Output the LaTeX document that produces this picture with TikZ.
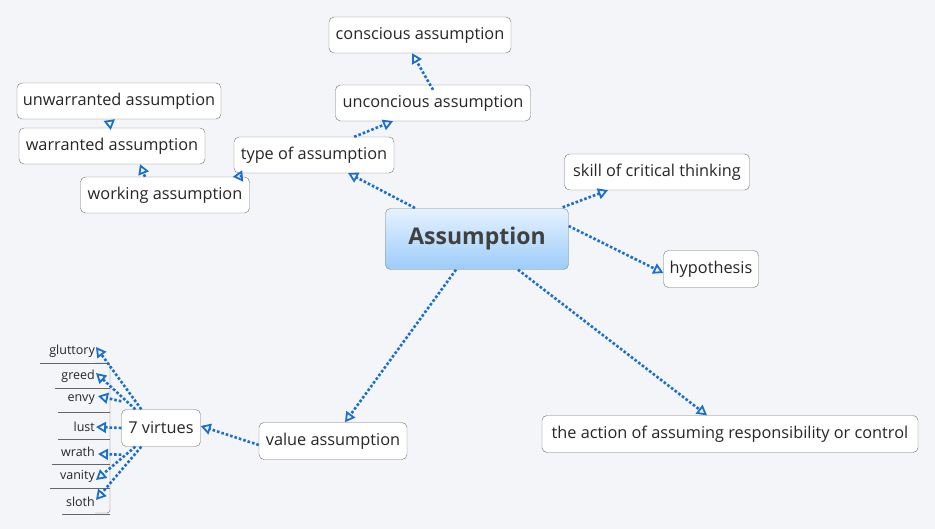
\documentclass[tikz,border=0pt]{standalone}
\usepackage{fontspec}
\setmainfont{Open Sans}
\usetikzlibrary{arrows.meta}
\definecolor{bg}{HTML}{F3F5F8}
\definecolor{ln}{HTML}{1A6FCC}
\definecolor{gtop}{HTML}{E6F2FE}
\definecolor{gbot}{HTML}{9CCCFA}
\begin{document}
\begin{tikzpicture}[x=1pt,y=-1pt,
 box/.style={draw=black!55,fill=white,rounded corners=5pt,font=\fontsize{16.3}{18}\selectfont,text=black!85,inner sep=0pt},
 con/.style={draw=ln,line width=2.6pt,dotted,-{Triangle[open,length=10pt,width=11pt,line width=1.8pt,sep=0pt]}},
 item/.style={font=\fontsize{12.5}{13}\selectfont,anchor=east,inner sep=1pt,text=black!85}]
\fill[bg] (0,0) rectangle (935,529);
\useasboundingbox (0,0) rectangle (935,529);
\node[box,minimum width=183pt,minimum height=61pt,draw=black!50,top color=gtop,bottom color=gbot,font=\bfseries\fontsize{23}{26}\selectfont,text=black!75] (A) at (477,239) {Assumption};
\node[box,minimum width=182pt,minimum height=36pt] (cons) at (420,35) {conscious assumption};
\node[box,minimum width=195pt,minimum height=36pt] (unc) at (433,103) {unconcious assumption};
\node[box,minimum width=204pt,minimum height=36pt] (unw) at (119,101) {unwarranted assumption};
\node[box,minimum width=186pt,minimum height=36pt] (war) at (112,146) {warranted assumption};
\node[box,minimum width=160pt,minimum height=36pt] (type) at (314,155) {type of assumption};
\node[box,minimum width=169pt,minimum height=36pt] (work) at (165,195) {working assumption};
\node[box,minimum width=185pt,minimum height=36pt] (skill) at (657,172) {skill of critical thinking};
\node[box,minimum width=95pt,minimum height=37pt] (hyp) at (711,269) {hypothesis};
\node[box,minimum width=148pt,minimum height=37pt] (val) at (333,441) {value assumption};
\node[box,minimum width=376pt,minimum height=37pt] (act) at (730,434) {the action of assuming responsibility or control};
% list
\draw[black!60,rounded corners=3pt] (95,363) -- (110,363) -- (110,513) -- (95,513);
\foreach \n/\t/\y/\l in {glu/gluttory/351/40,gre/greed/376/55,env/envy/400/58,lus/lust/427/58,wra/wrath/452/52,van/vanity/476/50,slo/sloth/502/62}{
 \node[item] (\n) at (96,\y) {\t};
 \draw[black!60] (\l,\y+12) -- (110,\y+12);
}
\node[box,minimum width=79pt,minimum height=37pt] (vir) at (161,428) {7 virtues};
\coordinate (a1) at (415,208); \coordinate (t1) at (348,173);
\draw[con] (a1) -- (t1);
\draw[con] (type.north east) ++(-40,0) coordinate (t2) (t2) -- ([xshift=-40pt]unc.south);
\draw[con] ([yshift=-5pt]unc.north) -- ([xshift=-8pt]cons.south);
\draw[con] ([xshift=6pt,yshift=-3pt]type.south west) -- ([xshift=-17pt]work.north east);
\draw[con] ([xshift=-20pt]work.north) -- ([xshift=28pt]war.south);
\draw[con] ([xshift=-4pt,yshift=3pt]war.north) -- ([xshift=-4pt]unw.south);
\draw[con] ([xshift=-6pt,yshift=1pt]A.north east) -- ([xshift=-49pt]skill.south);
\draw[con] ([yshift=13pt]A.east) -- ([yshift=-4pt]hyp.west);
\draw[con] ([xshift=41pt]A.south) -- ([xshift=-23pt]act.north);
\draw[con] ([xshift=-21pt]A.south) -- ([xshift=12pt]val.north);
\draw[con] ([yshift=-4pt]val.west) -- ([yshift=2pt]vir.east);
\draw[con] (vir.north west) ++(20,0) coordinate (v1) (v1) -- ([yshift=4pt]glu.east);
\draw[con] ([xshift=14pt]vir.north west) -- ([yshift=3pt]gre.east);
\draw[con] ([yshift=8pt]vir.north west) -- ([xshift=2pt,yshift=4pt]env.east);
\draw[con] (vir.west) -- (lus.east);
\draw[con] ([yshift=-8pt]vir.south west) -- ([xshift=2pt,yshift=-2pt]wra.east);
\draw[con] ([xshift=14pt]vir.south west) -- ([yshift=-4pt]van.east);
\draw[con] ([xshift=20pt]vir.south west) -- ([yshift=-4pt]slo.north east);
\end{tikzpicture}
\end{document}
